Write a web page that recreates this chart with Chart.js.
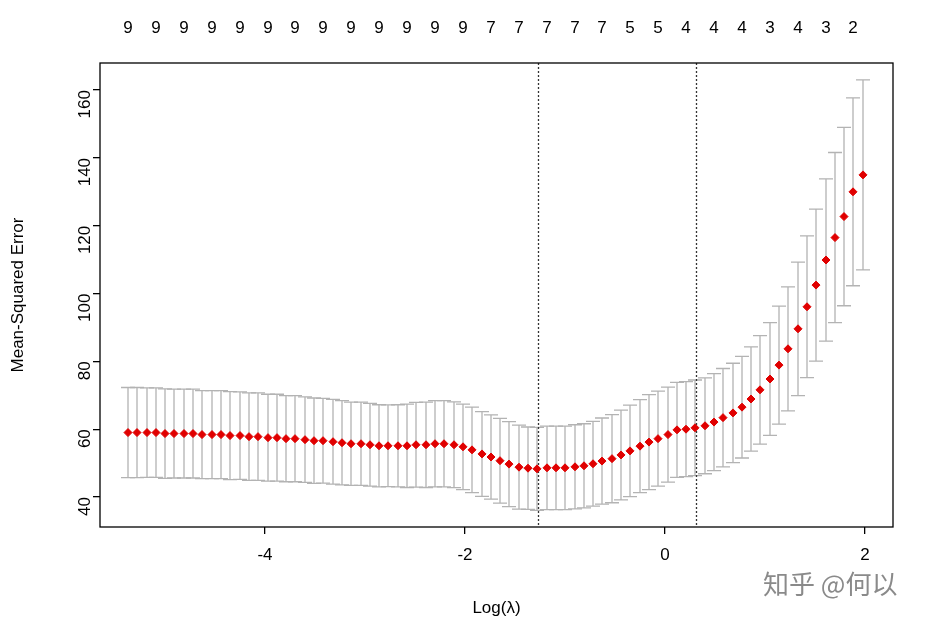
<!DOCTYPE html>
<html lang="en">
<head>
<meta charset="UTF-8">
<title>cv.glmnet</title>
<script src="https://cdn.jsdelivr.net/npm/chart.js"></script>
<style>
  body { margin: 0; background: #fff; }
  #wrap { position: relative; width: 934px; height: 623px; }
  #marca { position: absolute; left: 763px; top: 564px; font: 26px "Noto Sans CJK SC"; color: #8a8a8a; }
</style>
</head>
<body>
<div id="wrap">
  <canvas id="cv" width="934" height="623"></canvas>
  <div id="marca">知乎 @何以</div>
</div>
<script>
// log(lambda) valores
const logLambda = [-5.37,-5.28,-5.18,-5.09,-5.00,-4.91,-4.81,-4.72,-4.63,-4.53,-4.44,-4.35,-4.25,-4.16,-4.07,-3.97,-3.88,-3.79,-3.70,-3.60,
  -3.51,-3.42,-3.32,-3.23,-3.14,-3.04,-2.95,-2.86,-2.77,-2.67,-2.58,-2.49,-2.39,-2.30,-2.21,-2.11,-2.02,-1.93,-1.83,-1.74,
  -1.65,-1.56,-1.46,-1.37,-1.28,-1.18,-1.09,-1.00,-0.90,-0.81,-0.72,-0.63,-0.53,-0.44,-0.35,-0.25,-0.16,-0.07,0.03,0.12,
  0.21,0.30,0.40,0.49,0.58,0.68,0.77,0.86,0.95,1.05,1.14,1.23,1.33,1.42,1.51,1.61,1.70,1.79,1.88,1.98];
const mse = [59.0,59.0,59.0,59.0,58.7,58.7,58.7,58.7,58.4,58.4,58.4,58.1,58.1,57.8,57.8,57.5,57.5,57.2,57.2,56.9,
  56.6,56.6,56.3,56.0,55.7,55.7,55.4,55.1,55.1,55.1,55.1,55.4,55.4,55.7,55.7,55.4,54.8,53.9,52.7,51.8,
  50.7,49.7,48.8,48.5,48.3,48.6,48.6,48.6,48.9,49.2,49.8,50.6,51.3,52.4,53.6,55.0,56.2,57.2,58.4,59.8,
  60.0,60.4,61.0,62.1,63.4,64.8,66.5,68.9,71.6,74.8,78.9,83.7,89.6,96.1,102.5,109.9,116.5,122.7,130.0,135.0];
const erro = [13.3,13.3,13.2,13.2,13.2,13.1,13.1,13.1,13.0,13.0,13.0,13.0,12.9,12.9,12.9,12.8,12.8,12.7,12.7,12.6,
  12.6,12.5,12.5,12.4,12.3,12.3,12.2,12.1,12.05,12.1,12.3,12.5,12.6,12.7,12.7,12.65,12.6,12.6,12.5,12.4,
  12.5,12.55,12.4,12.15,12.25,12.3,12.3,12.3,12.4,12.4,12.5,12.7,13.0,13.25,13.5,13.7,14.0,14.0,14.0,14.0,
  14.0,14.1,14.15,14.3,14.5,14.65,15.0,15.4,16.0,16.6,17.4,18.3,19.7,20.9,22.4,23.9,25.1,26.3,27.7,28.0];
// numero de variaveis (eixo de cima, a cada 3 lambdas)
const nzero = [9,9,9,9,9,9,9,9,9,9,9,9,9,7,7,7,7,7,5,5,4,4,4,3,4,3,2];
const linhasLambda = [-1.27, 0.31];
const xTicks = [-4, -2, 0, 2];
const yTicks = [40, 60, 80, 100, 120, 140, 160];

const fonte = '"Liberation Sans", Arial, sans-serif';

const plugin = {
  id: 'glmnet',
  beforeDatasetsDraw(chart) {
    const c = chart.ctx, x = chart.scales.x, y = chart.scales.y, a = chart.chartArea;
    c.save();
    c.strokeStyle = '#b3b3b3';
    c.lineWidth = 1.3;
    for (let i = 0; i < mse.length; i++) {
      const px = x.getPixelForValue(logLambda[i]);
      const hi = y.getPixelForValue(mse[i] + erro[i]);
      const lo = y.getPixelForValue(mse[i] - erro[i]);
      c.beginPath();
      c.moveTo(px, hi); c.lineTo(px, lo);
      c.moveTo(px - 7, hi); c.lineTo(px + 7, hi);
      c.moveTo(px - 7, lo); c.lineTo(px + 7, lo);
      c.stroke();
    }
    // linhas pontilhadas
    c.strokeStyle = '#333';
    c.lineWidth = 1.3;
    c.setLineDash([2, 2]);
    linhasLambda.forEach(v => {
      const px = Math.round(x.getPixelForValue(v)) + 0.5;
      c.beginPath(); c.moveTo(px, a.top); c.lineTo(px, a.bottom); c.stroke();
    });
    c.restore();
  },
  afterDraw(chart) {
    const c = chart.ctx, x = chart.scales.x, a = chart.chartArea;
    c.save();
    c.strokeStyle = '#000';
    c.lineWidth = 1.3;
    c.strokeRect(a.left, a.top, a.right - a.left, a.bottom - a.top);
    c.fillStyle = '#000';
    c.font = '17px ' + fonte;
    c.textAlign = 'center';
    c.textBaseline = 'middle';
    nzero.forEach((n, k) => {
      c.fillText(String(n), x.getPixelForValue(logLambda[k * 3]), 28);
    });
    c.restore();
  }
};

new Chart(document.getElementById('cv'), {
  type: 'scatter',
  data: {
    datasets: [{
      data: logLambda.map((v, i) => ({ x: v, y: mse[i] })),
      backgroundColor: '#e00000',
      borderColor: '#e00000',
      pointStyle: 'rectRot',
      pointRadius: 4,
      pointHoverRadius: 4
    }]
  },
  options: {
    responsive: false,
    animation: false,
    layout: { padding: { top: 63, right: 41, left: 4, bottom: 0 } },
    plugins: { legend: { display: false }, tooltip: { enabled: false } },
    scales: {
      x: {
        type: 'linear', min: -5.65, max: 2.28,
        afterBuildTicks: s => { s.ticks = xTicks.map(v => ({ value: v })); },
        afterFit: s => { s.height = 96; },
        grid: { drawOnChartArea: false, tickLength: 7, color: '#000', lineWidth: 1.3 },
        border: { display: false },
        ticks: { color: '#000', font: { family: fonte, size: 17 }, padding: 11 },
        title: { display: true, text: 'Log(λ)', color: '#000', font: { family: fonte, size: 17 }, padding: { top: 12 } }
      },
      y: {
        min: 31.15, max: 168,
        afterBuildTicks: s => { s.ticks = yTicks.map(v => ({ value: v })); },
        afterFit: s => { s.width = 96; },
        grid: { drawOnChartArea: false, tickLength: 7, color: '#000', lineWidth: 1.3 },
        border: { display: false },
        ticks: { color: '#000', font: { family: fonte, size: 17 }, minRotation: 90, maxRotation: 90, padding: 8 },
        title: { display: true, text: 'Mean-Squared Error', color: '#000', font: { family: fonte, size: 17 }, padding: { bottom: 18 } }
      }
    }
  },
  plugins: [plugin]
});
</script>
</body>
</html>
